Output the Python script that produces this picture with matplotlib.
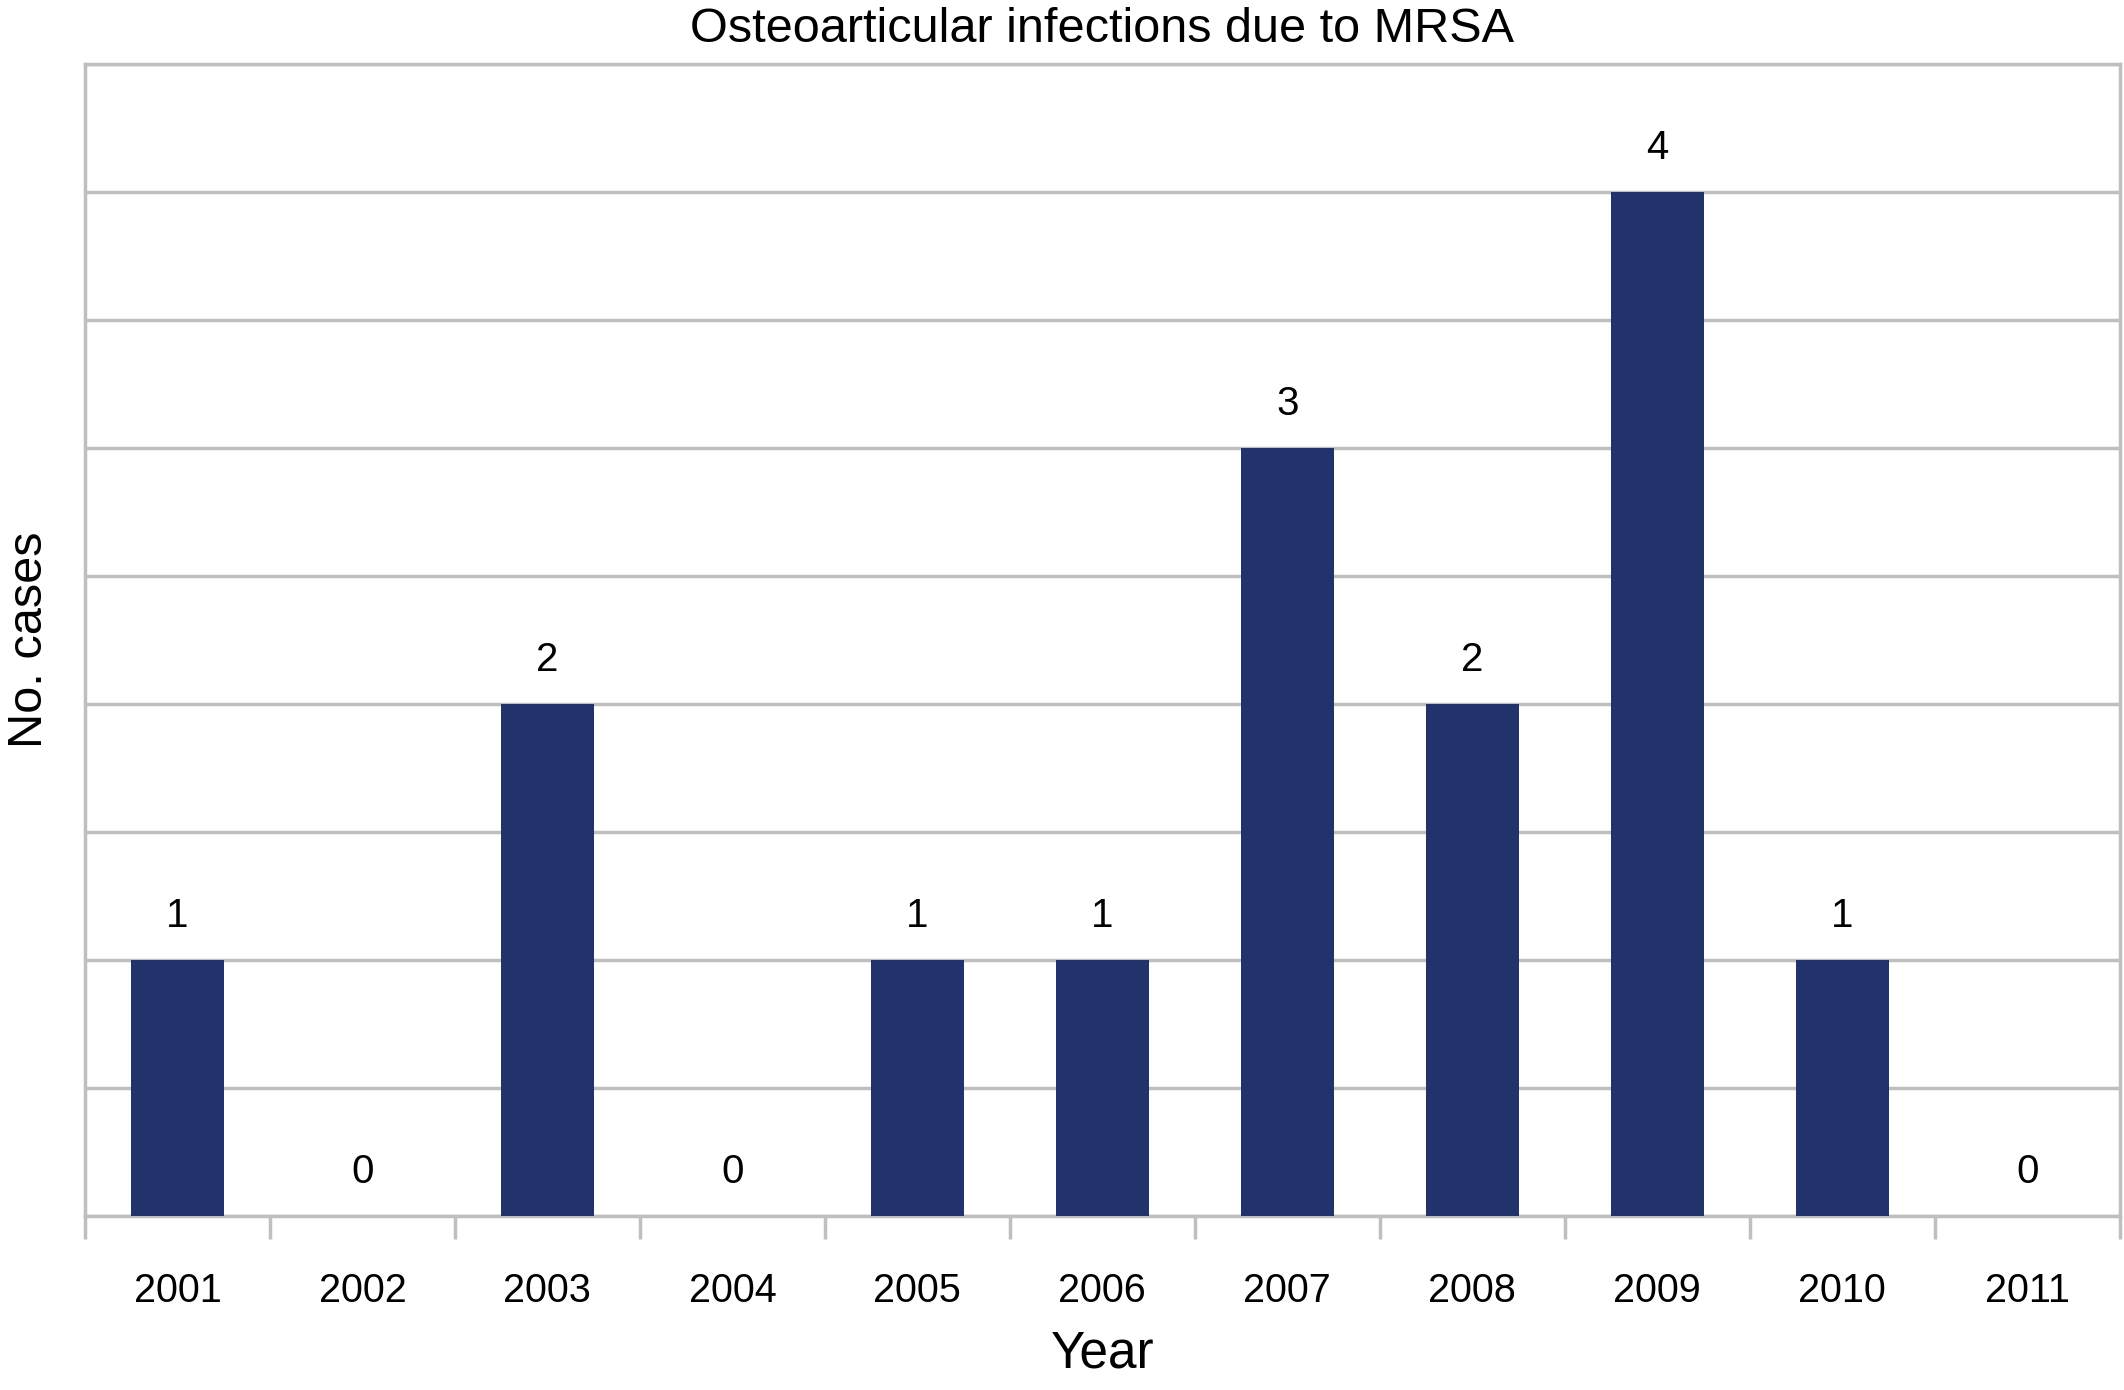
import matplotlib.pyplot as plt
import numpy as np

plt.rcParams['font.family'] = ['Liberation Sans', 'DejaVu Sans']

years = ['2001', '2002', '2003', '2004', '2005', '2006', '2007', '2008', '2009', '2010', '2011']
cases = [1, 0, 2, 0, 1, 1, 3, 2, 4, 1, 0]

bar_color = '#22336b'
grid_color = '#bfbfbf'

fig = plt.figure(figsize=(21.24, 13.9), dpi=100)
ax = fig.add_axes([0.040, 0.125, 0.958, 0.829])

x = np.arange(len(years))
bars = ax.bar(x, cases, width=0.5, color=bar_color, zorder=3)

for xi, v in zip(x, cases):
    ax.annotate(str(v), (xi, v), xytext=(0, 32), textcoords='offset points',
                ha='center', va='center', fontsize=29)

ax.set_xlim(-0.5, len(years) - 0.5)
ax.set_ylim(0, 4.5)
ax.set_yticks(np.arange(0, 4.51, 0.5))
ax.set_yticklabels([])
ax.tick_params(axis='y', length=0)
ax.yaxis.grid(True, color=grid_color, linewidth=2.5, zorder=0)

ax.set_xticks(x)
ax.set_xticklabels(years, fontsize=28.5)
ax.set_xticks(np.arange(-0.5, len(years)), minor=True)
ax.tick_params(axis='x', which='major', length=0, pad=40)
ax.tick_params(axis='x', which='minor', length=16.5, width=2.5, color=grid_color)

for side in ['left', 'right', 'top', 'bottom']:
    ax.spines[side].set_color(grid_color)
    ax.spines[side].set_linewidth(2.5)

ax.set_xlabel('Year', fontsize=37, labelpad=14)
ax.set_ylabel('No. cases', fontsize=35, labelpad=20)
ax.set_title('Osteoarticular infections due to MRSA', fontsize=35, pad=16)

fig.savefig('out.png', dpi=100)
